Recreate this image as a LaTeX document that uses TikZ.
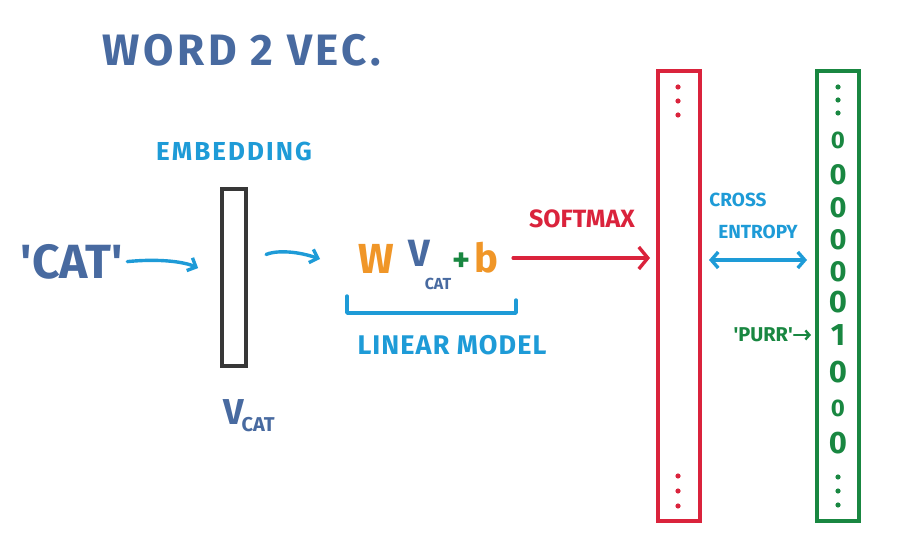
\documentclass[tikz,border=0pt]{standalone}
\usepackage{fontspec}
\setmainfont{Fira Sans}
\usetikzlibrary{arrows.meta,positioning}
\definecolor{wblue}{RGB}{72,106,160}
\definecolor{wcyan}{RGB}{30,155,215}
\definecolor{wred}{RGB}{218,35,60}
\definecolor{wgreen}{RGB}{25,135,65}
\definecolor{worange}{RGB}{240,150,40}
\definecolor{wgray}{RGB}{55,55,55}
\newcommand{\fs}[1]{\fontsize{#1}{#1}\selectfont\bfseries}
\newcommand{\tick}{\textquotesingle}
\newcommand{\spread}{\addfontfeatures{LetterSpace=8}}

\tikzset{
  lbl/.style={inner sep=0pt, font=\fs{#1}},
  vecbox/.style={draw=#1, line width=4pt, minimum width=42pt, minimum height=450pt, inner sep=0pt},
  handarrow/.style={line width=3.4pt, line cap=round, -{Straight Barb[length=7pt, width=14pt]}},
}

\begin{document}
\begin{tikzpicture}[x=1pt, y=-1pt]
\useasboundingbox (0,0) rectangle (898,537);

% title
\node[lbl=44, text=wblue] (title) at (242,50) {\spread WORD 2 VEC.};

% input word and embedding
\node[lbl=48, text=wblue] (cat) at (72,262) {\tick CAT\tick};
\node[draw=wgray, line width=4pt, minimum width=24pt, minimum height=177pt, inner sep=0pt] (emb) at (234,278) {};
\node[lbl=26, text=wcyan, above=26pt of emb] (embtxt) {\spread EMBEDDING};
\node[lbl=36, text=wblue] (vb) at (234,412) {V};
\node[lbl=20, text=wblue, anchor=west] (vbsub) at ([xshift=-3pt]vb.south east) {CAT};

\draw[handarrow, wcyan, shorten <=4pt, shorten >=24pt] (cat.east) to[bend left=15] (emb.west);

% linear model
\node[lbl=42, text=worange] (w) at (376,259) {W};
\node[lbl=38, text=wblue] (v) at (419,253) {V};
\node[lbl=16, text=wblue] (vsub) at (438,284) {CAT};
\node[lbl=34, text=wgreen] (plus) at (462,262) {+};
\node[lbl=40, text=worange] (b) at (486,258) {b};
\coordinate[left=38pt of w.west] (win);

\draw[handarrow, wcyan, shorten <=20pt] (emb.east |- 0,263) to[bend left=22] (win);

\draw[wcyan, line width=3.4pt, line cap=round, line join=round]
  (347,296) -- (347,313) -- (516,313) -- (516,300);
\node[lbl=27, text=wcyan] (lin) at (452,345) {\addfontfeatures{LetterSpace=4}LINEAR MODEL};

% softmax output
\node[vecbox=wred] (soft) at (679,296) {};
\node[lbl=25, text=wred] (softtxt) at (582,219) {SOFTMAX};
\draw[wred, line width=3.4pt, line cap=round, -{Straight Barb[length=9pt, width=22pt]},
  shorten <=15pt, shorten >=6pt] (b.east) -- (soft.west |- b.east);
\foreach \y [count=\i] in {87,101,115,476,491,506}
  \fill[wred] (678,\y) circle (2.6pt) coordinate (rd\i);

% one-hot target
\node[vecbox=wgreen] (hot) at (838,296) {};
\foreach \y [count=\i] in {87,100,113,477,491,505}
  \fill[wgreen] (838,\y) circle (2.6pt) coordinate (gd\i);
\foreach \y/\d/\s [count=\i] in {140/0/24, 175/0/29, 208/0/29, 240/0/29, 272/0/29, 302/0/31,
  335/1/31, 372/0/31, 408/0/24, 443/0/31}
  \node[lbl=\s, text=wgreen] (digit\i) at (838,\y) {\d};

% cross entropy
\node[lbl=19, text=wcyan] (cross) at (738,200) {CROSS};
\node[lbl=19, text=wcyan] (entropy) at (758,232) {ENTROPY};
\draw[wcyan, line width=3.4pt, line cap=round,
  {Straight Barb[length=7pt, width=16pt]}-{Straight Barb[length=7pt, width=16pt]},
  shorten <=7pt, shorten >=8pt] (soft.east |- 0,260) -- (hot.west |- 0,260);

\node[lbl=20, text=wgreen, anchor=east] (purr) at (793,335) {\tick PURR\tick};
\draw[wgreen, line width=2.4pt, line cap=round, -{Straight Barb[length=4pt, width=9pt]},
  shorten <=1pt, shorten >=4pt] (purr.east) -- (hot.west |- purr.east);
\end{tikzpicture}
\end{document}
